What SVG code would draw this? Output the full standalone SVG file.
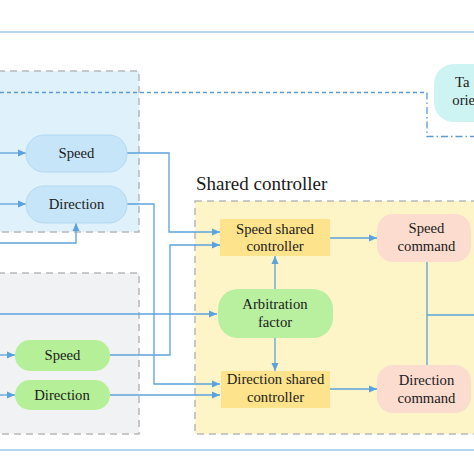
<svg xmlns="http://www.w3.org/2000/svg" width="474" height="474" viewBox="0 0 474 474">
<defs>
<marker id="ah" markerWidth="8" markerHeight="8" refX="8" refY="4" orient="auto" markerUnits="userSpaceOnUse"><path d="M0,0.5 L8,4 L0,7.5 z" fill="#5ba3dc"/></marker>
</defs>
<style>
.t{font-family:"Liberation Serif","Times New Roman",serif;font-size:14.7px;fill:#1a1a1a;text-anchor:middle}
.ts{font-family:"Liberation Serif","Times New Roman",serif;font-size:14.7px;fill:#1a1a1a}
.c{fill:none;stroke:#5ba3dc;stroke-width:1.3}
.a{marker-end:url(#ah)}
.frame{fill:none;stroke:#9cc8e6;stroke-width:1.5}
.zone{stroke:#b8b8b8;stroke-width:1.5;stroke-dasharray:7 5}
.blue{fill:#c6e5f8;stroke:#b3d9f1;stroke-width:1}
.green{fill:#b5ef98}
.gold{fill:#fde38c}
.pink{fill:#fbdccf}
</style>
<rect x="0" y="0" width="474" height="474" fill="#ffffff"/>
<g id="frame">
<line class="frame" x1="0" y1="32" x2="474" y2="32"/>
<line class="frame" x1="0" y1="450" x2="474" y2="450"/>
</g>
<g id="zones">
<rect class="zone" x="-2" y="71" width="141" height="161" fill="#dff1fb"/>
<rect class="zone" x="-2" y="273" width="141" height="161" fill="#f1f2f3"/>
<rect class="zone" x="195" y="201" width="290" height="233" fill="#fdf4c8"/>
<text x="196" y="190" font-family="Liberation Serif, Times New Roman, serif" font-size="19" fill="#1a1a1a">Shared controller</text>
</g>
<g id="connectors">
<path class="c a" d="M0,153 H26"/>
<path class="c a" d="M0,204 H26"/>
<path class="c a" d="M0,243 H76 V223"/>
<path class="c a" d="M127,153 H169 V232 H220"/>
<path class="c a" d="M127,204 H154 V384 H220"/>
<path class="c a" d="M110,355 H170 V245 H220"/>
<path class="c a" d="M110,395 H220"/>
<path class="c a" d="M0,314 H217"/>
<path class="c a" d="M0,355 H15"/>
<path class="c a" d="M0,395 H15"/>
<path class="c a" d="M275,289 V256"/>
<path class="c a" d="M275,338 V371"/>
<path class="c a" d="M330,238 H377"/>
<path class="c a" d="M330,389 H377"/>
<path class="c" d="M427,262 V365 M427,315 H474"/>
<path fill="none" stroke="#5b9bd5" stroke-width="1.3" stroke-dasharray="4 3" d="M0,92.5 H427"/>
<path fill="none" stroke="#5b9bd5" stroke-width="1.3" stroke-dasharray="7 3 1.5 3" d="M427,92.5 V136.5 H474"/>
</g>
<g id="node-speed-human">
<rect class="blue" x="26" y="135" width="101" height="37" rx="18"/>
<text class="t" x="76.5" y="158">Speed</text>
</g>
<g id="node-direction-human">
<rect class="blue" x="26" y="186" width="101" height="37" rx="18"/>
<text class="t" x="76.5" y="209">Direction</text>
</g>
<g id="node-speed-auto">
<rect class="green" x="15" y="340" width="95" height="31" rx="15"/>
<text class="t" x="62.5" y="360">Speed</text>
</g>
<g id="node-direction-auto">
<rect class="green" x="15" y="380" width="95" height="30" rx="15"/>
<text class="t" x="62" y="399.5">Direction</text>
</g>
<g id="node-arbitration">
<rect fill="#b8f0a0" x="218" y="289" width="115" height="49" rx="20"/>
<text class="t" x="275" y="309.3">Arbitration</text>
<text class="t" x="275" y="326.7">factor</text>
</g>
<g id="node-speed-shared">
<rect class="gold" x="220" y="219" width="110" height="37"/>
<text class="t" x="275" y="234.3">Speed shared</text>
<text class="t" x="275" y="251">controller</text>
</g>
<g id="node-direction-shared">
<rect class="gold" x="221" y="371" width="109" height="37"/>
<text class="t" x="275.5" y="384.3">Direction shared</text>
<text class="t" x="275.5" y="401.7">controller</text>
</g>
<g id="node-speed-command">
<rect class="pink" x="377" y="214" width="94" height="48" rx="16"/>
<text class="t" x="426.5" y="233.3">Speed</text>
<text class="t" x="426.5" y="251">command</text>
</g>
<g id="node-direction-command">
<rect class="pink" x="377" y="365" width="94" height="48" rx="16"/>
<text class="t" x="426.5" y="385">Direction</text>
<text class="t" x="426.5" y="402.7">command</text>
</g>
<g id="node-target">
<rect fill="#cdf3f2" x="434" y="64" width="70" height="58" rx="20"/>
<text class="ts" x="455" y="87">Ta</text>
<text class="ts" x="452.3" y="105">orie</text>
</g>
</svg>
